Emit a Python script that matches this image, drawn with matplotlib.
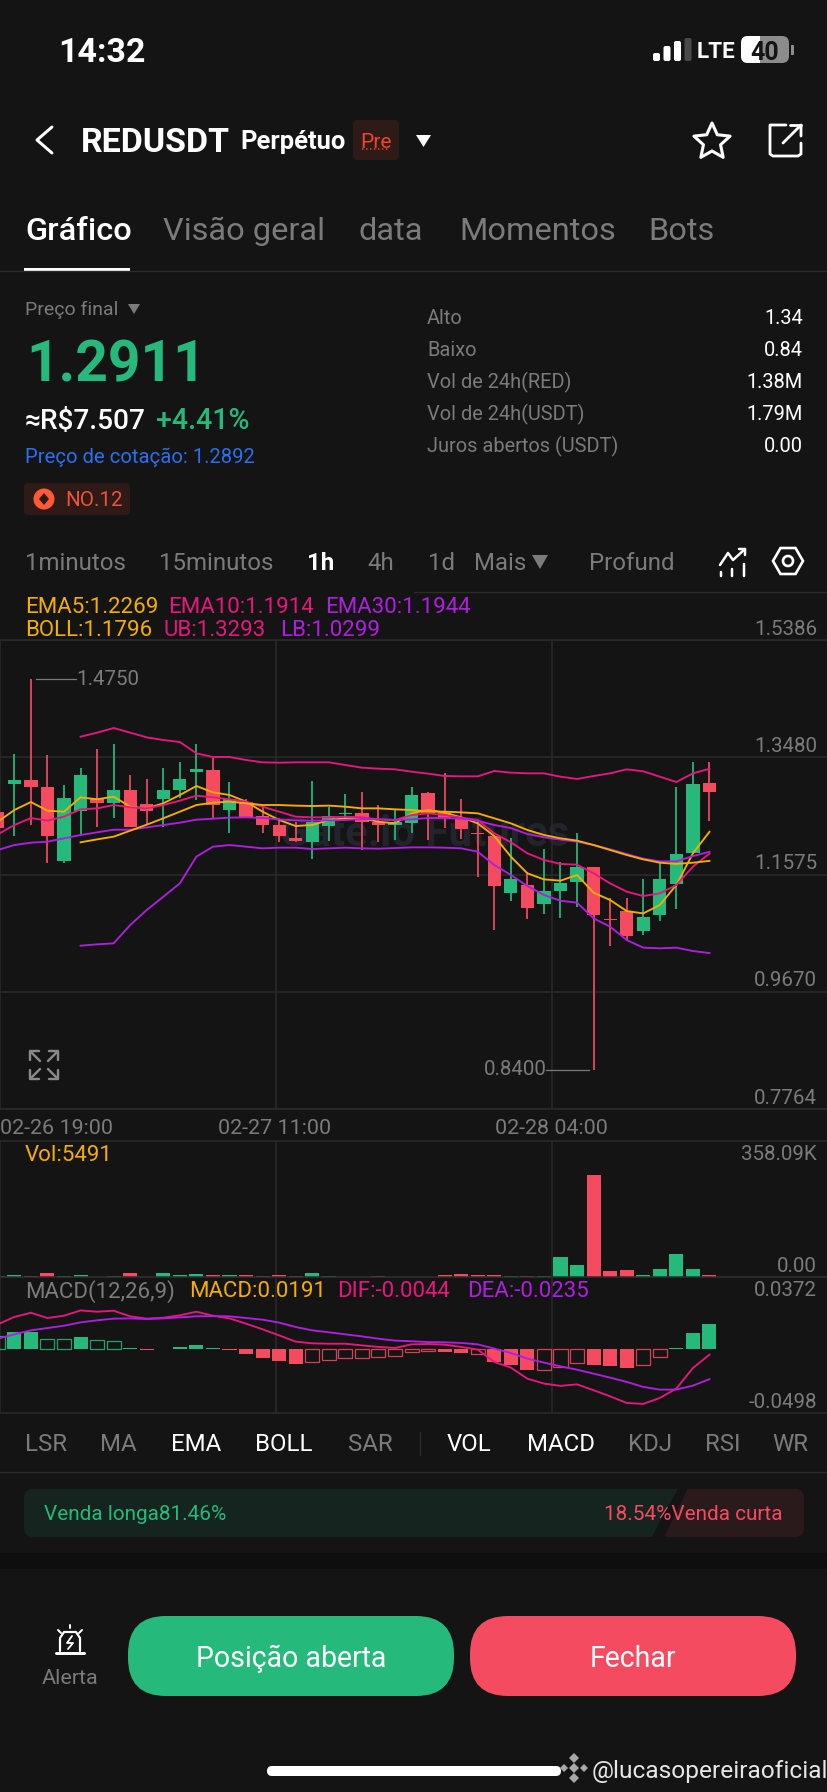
import math
import matplotlib
matplotlib.use('Agg')
import matplotlib.pyplot as plt
import matplotlib.transforms as mtransforms
from matplotlib.patches import FancyBboxPatch, Polygon, Circle, Rectangle, RegularPolygon

plt.rcParams['font.family'] = ['Roboto', 'DejaVu Sans']

W = 828
H = 1792
BG = '#141414'
GRID = '#2b2b2b'
GREY = '#7b7b7b'
GREEN = '#25BA7B'
RED = '#F44B61'
YELLOW = '#F5AE00'
PINK = '#E8177F'
PURPLE = '#B01FDF'
TICK_SIZE = 20.5
LEGEND_SIZE = 22.3

# hourly candles, left to right
opens = [1.2585, 1.3046, 1.3105, 1.2997, 1.1794, 1.2612, 1.2797, 1.2732, 1.2943, 1.2726, 1.2802,
         1.2948, 1.3235, 1.3279, 1.2629, 1.2759, 1.2531, 1.2379, 1.2163, 1.2103, 1.2368, 1.2558,
         1.2569, 1.2433, 1.2374, 1.2417, 1.2905, 1.2580, 1.2471, 1.2244, 1.2206, 1.1279, 1.1404,
         1.1095, 1.1312, 1.1453, 1.1691, 1.0846, 1.0976, 1.0662, 1.0911, 1.1426, 1.1919, 1.3062]
highs = [1.2650, 1.3533, 1.4750, 1.3512, 1.3024, 1.3311, 1.3620, 1.3696, 1.3192, 1.3127, 1.3300,
         1.3398, 1.3696, 1.3463, 1.3078, 1.2797, 1.2677, 1.2488, 1.2433, 1.3094, 1.2667, 1.2883,
         1.2916, 1.2699, 1.2623, 1.2997, 1.2921, 1.3225, 1.2797, 1.2450, 1.2206, 1.2163, 1.1621,
         1.1984, 1.1772, 1.2255, 1.1691, 1.1187, 1.1187, 1.1496, 1.1783, 1.2997, 1.3398, 1.3398]
lows = [1.2217, 1.2200, 1.2385, 1.1767, 1.1767, 1.2200, 1.2347, 1.2499, 1.2347, 1.2390, 1.2341,
        1.2824, 1.2786, 1.2499, 1.2255, 1.2499, 1.2255, 1.2098, 1.2098, 1.1832, 1.2125, 1.2461,
        1.1973, 1.2108, 1.2135, 1.2244, 1.2135, 1.2330, 1.2152, 1.1540, 1.0673, 1.1149, 1.0851,
        1.0933, 1.0873, 1.1052, 0.8400, 1.0418, 1.0499, 1.0597, 1.0824, 1.1008, 1.1919, 1.2444]
closes = [1.2336, 1.3105, 1.2997, 1.2195, 1.2818, 1.3187, 1.2732, 1.2943, 1.2347, 1.2607, 1.2948,
          1.3127, 1.3284, 1.2710, 1.2802, 1.2499, 1.2385, 1.2195, 1.2119, 1.2423, 1.2520, 1.2574,
          1.2428, 1.2385, 1.2423, 1.2872, 1.2574, 1.2482, 1.2320, 1.2228, 1.1393, 1.1496, 1.1025,
          1.1312, 1.1431, 1.1691, 1.0911, 1.0835, 1.0575, 1.0889, 1.1502, 1.1908, 1.3051, 1.2911]

ema5 = [1.2433, 1.2623, 1.2753, 1.2612, 1.2596, 1.2829, 1.2797, 1.2840, 1.2677, 1.2650, 1.2732,
        1.2867, 1.3013, 1.2910, 1.2867, 1.2759, 1.2596, 1.2461, 1.2363, 1.2379, 1.2461, 1.2488,
        1.2488, 1.2433, 1.2406, 1.2569, 1.2623, 1.2580, 1.2504, 1.2406, 1.2200, 1.1865, 1.1594,
        1.1496, 1.1475, 1.1567, 1.1279, 1.1160, 1.0981, 1.0943, 1.1079, 1.1404, 1.1919, 1.2269]
ema10 = [1.2228, 1.2379, 1.2493, 1.2450, 1.2515, 1.2634, 1.2650, 1.2704, 1.2667, 1.2650, 1.2704,
         1.2775, 1.2856, 1.2829, 1.2797, 1.2759, 1.2677, 1.2596, 1.2515, 1.2504, 1.2504, 1.2515,
         1.2504, 1.2471, 1.2461, 1.2542, 1.2569, 1.2542, 1.2499, 1.2461, 1.2244, 1.2098, 1.1919,
         1.1811, 1.1746, 1.1735, 1.1594, 1.1431, 1.1296, 1.1225, 1.1269, 1.1404, 1.1702, 1.1914]
ema30 = [1.1973, 1.2054, 1.2092, 1.2108, 1.2163, 1.2217, 1.2260, 1.2303, 1.2303, 1.2341, 1.2379,
         1.2417, 1.2466, 1.2482, 1.2499, 1.2504, 1.2493, 1.2471, 1.2455, 1.2450, 1.2455, 1.2461,
         1.2477, 1.2471, 1.2461, 1.2471, 1.2493, 1.2493, 1.2482, 1.2450, 1.2379, 1.2330, 1.2233,
         1.2179, 1.2141, 1.2108, 1.2054, 1.1984, 1.1908, 1.1832, 1.1789, 1.1789, 1.1875, 1.1944]

# bollinger bands only start at candle 5
boll_start = 5
boll = [1.2098, 1.2146, 1.2190, 1.2287, 1.2385, 1.2488, 1.2596, 1.2704, 1.2742, 1.2759, 1.2732,
        1.2704, 1.2704, 1.2694, 1.2688, 1.2694, 1.2677, 1.2650, 1.2650, 1.2634, 1.2623, 1.2601,
        1.2596, 1.2585, 1.2569, 1.2488, 1.2406, 1.2298, 1.2217, 1.2163, 1.2125, 1.2054, 1.1973,
        1.1892, 1.1821, 1.1767, 1.1746, 1.1767, 1.1796]
ub = [1.3815, 1.3880, 1.3956, 1.3880, 1.3804, 1.3761, 1.3728, 1.3544, 1.3485, 1.3485, 1.3436,
      1.3398, 1.3392, 1.3398, 1.3398, 1.3398, 1.3355, 1.3311, 1.3295, 1.3284, 1.3246, 1.3214,
      1.3176, 1.3170, 1.3170, 1.3257, 1.3230, 1.3219, 1.3219, 1.3165, 1.3127, 1.3176, 1.3219,
      1.3284, 1.3252, 1.3165, 1.3078, 1.3219, 1.3293]
lb = [1.0418, 1.0440, 1.0456, 1.0754, 1.0998, 1.1214, 1.1431, 1.1865, 1.2027, 1.2054, 1.2027,
      1.2000, 1.2011, 1.2011, 1.1989, 1.2000, 1.2011, 1.2000, 1.1995, 1.2005, 1.2016, 1.2016,
      1.2011, 1.2000, 1.1946, 1.1729, 1.1567, 1.1388, 1.1242, 1.1149, 1.1117, 1.0862, 1.0727,
      1.0510, 1.0386, 1.0375, 1.0386, 1.0331, 1.0299]

# volume in thousands
volumes = [3.5, 8.2, 4.7, 12.9, 2.3, 8.2, 1.2, 4.7, 14.1, 1.2, 14.1, 8.2, 11.7, 8.2, 8.2, 8.2,
           3.5, 8.2, 3.5, 15.3, 4.7, 1.2, 1.2, 3.5, 1.2, 1.2, 1.2, 8.2, 11.7, 8.2, 5.9, 3.5, 3.5,
           4.7, 70.4, 42.3, 358.09, 22.3, 23.5, 8.2, 27.0, 79.8, 27.0, 5.49]

macd_hist = [.0101, .0132, .0135, .0080, .0078, .0091, .0067, .0062, .0010, -.0005, .0003, .0018,
             .0034, .0008, -.0005, -.0041, -.0070, -.0096, -.0114, -.0104, -.0085, -.0070, -.0067,
             -.0062, -.0057, -.0023, -.0018, -.0021, -.0031, -.0041, -.0101, -.0124, -.0163,
             -.0163, -.0142, -.0109, -.0124, -.0132, -.0148, -.0127, -.0062, .0008, .0127, .0191]
macd_hollow = [0, 3, 4, 6, 7, 19, 20, 21, 22, 23, 24, 25, 26, 29, 33, 34, 35, 39, 40]
dif = [.0192, .0249, .0282, .0241, .0259, .0300, .0290, .0298, .0254, .0236, .0243, .0262, .0290,
       .0259, .0238, .0197, .0153, .0106, .0057, .0044, .0041, .0041, .0028, .0016, .0008, .0036,
       .0039, .0034, .0016, -.0005, -.0101, -.0145, -.0231, -.0269, -.0287, -.0275, -.0321,
       -.0368, -.0420, -.0427, -.0381, -.0308, -.0148, -.0044]
dea = [.0080, .0114, .0145, .0163, .0181, .0207, .0223, .0236, .0238, .0233, .0238, .0246, .0254,
       .0256, .0254, .0241, .0228, .0205, .0171, .0145, .0130, .0114, .0098, .0080, .0065, .0060,
       .0054, .0052, .0047, .0036, .0003, -.0031, -.0075, -.0106, -.0135, -.0161, -.0192, -.0223,
       -.0256, -.0295, -.0316, -.0316, -.0285, -.0235]

price_ticks = [1.5386, 1.3480, 1.1575, 0.9670, 0.7764]
time_labels = ['02-26 19:00', '02-27 11:00', '02-28 04:00']

tabs = [('Gráfico', 25, 'white'), ('Visão geral', 163, GREY), ('data', 359, GREY),
        ('Momentos', 459, GREY), ('Bots', 648, GREY)]
stat_names = ['Alto', 'Baixo', 'Vol de 24h(RED)', 'Vol de 24h(USDT)', 'Juros abertos (USDT)']
stat_values = ['1.34', '0.84', '1.38M', '1.79M', '0.00']
stat_rows = [316, 348, 380, 412, 444]
periods = [('1minutos', 25, GREY), ('15minutos', 159, GREY), ('1h', 307, 'white'), ('4h', 367, GREY),
           ('1d', 428, GREY), ('Mais', 474, GREY), ('Profund', 589, GREY)]
indicators = [('LSR', 25, GREY), ('MA', 100, GREY), ('EMA', 171, 'white'), ('BOLL', 255, 'white'),
              ('SAR', 348, GREY), ('VOL', 447, 'white'), ('MACD', 527, 'white'), ('KDJ', 628, GREY),
              ('RSI', 705, GREY), ('WR', 772, GREY)]

fig = plt.figure(figsize=(W / 100, H / 100), dpi=100, facecolor=BG)

# whole phone screen in pixel coordinates, for everything around the chart
ui = fig.add_axes([0, 0, 1, 1])
ui.set_xlim(0, W)
ui.set_ylim(H, 0)
ui.axis('off')


def txt(x, y, s, size, color=GREY, ha='left', weight='normal', **kw):
    return ui.text(x, y, s, fontsize=size * 0.72, color=color, ha=ha, va='center_baseline',
                   fontweight=weight, **kw)


def box(x0, y0, x1, y1, color, r=6, **kw):
    p = FancyBboxPatch((x0 + r, y0 + r), x1 - x0 - 2 * r, y1 - y0 - 2 * r,
                       boxstyle='round,pad=%d,rounding_size=%d' % (r, r), fc=color, ec='none', **kw)
    ui.add_patch(p)
    return p


def line(xs, ys, color='white', lw=2.0, **kw):
    ui.plot(xs, ys, color=color, lw=lw * 0.72, solid_capstyle='round', solid_joinstyle='round', **kw)


def tri(x0, x1, y0, y1, color):
    ui.add_patch(Polygon([(x0, y0), (x1, y0), ((x0 + x1) / 2, y1)], fc=color, ec='none'))


# status bar
txt(58, 49, '14:32', 34, 'white', weight='bold')
for k, top in enumerate([53, 46, 41, 38]):
    box(653 + k * 10.5, top, 660 + k * 10.5, 61, 'white' if k < 3 else '#4a4a4a', r=2)
txt(697, 50, 'LTE', 22.5, 'white', weight='bold')
batt = box(741, 36, 789, 63, '#8c8c8c', r=7)
white_part = Rectangle((741, 36), 19, 27, fc='white', ec='none')
ui.add_patch(white_part)
white_part.set_clip_path(batt)
ui.add_patch(Rectangle((791, 45), 3, 10, fc='#8c8c8c', ec='none'))
txt(765, 50, '40', 25, '#141414', ha='center', weight='bold')

# title row
line([52, 37, 52], [127, 140, 153], lw=3)
txt(81, 140, 'REDUSDT', 34, 'white', weight='bold')
txt(240, 140, 'Perpétuo', 25.5, 'white', weight='bold')
box(353, 120, 399, 160, '#2e1a16', r=4)
txt(376, 140, 'Pre', 21, '#F0452B', ha='center')
line([362, 389], [149, 149], color='#F0452B', lw=1.5, ls=':')
tri(416, 431, 135, 147, 'white')
star = []
for k in range(10):
    r = 19 if k % 2 == 0 else 9
    a = math.radians(-90 + k * 36)
    star.append((712 + r * math.cos(a), 142 + r * math.sin(a)))
ui.add_patch(Polygon(star, fc='none', ec='white', lw=2.2, joinstyle='round'))
line([786, 770, 770, 773, 798, 801, 801], [125, 125, 154, 156, 156, 154, 143], lw=2.8)
line([783, 801, 801], [143, 125, 136], lw=2.8)
line([790, 801], [125, 125], lw=2.8)

# tabs
for name, x, c in tabs:
    txt(x, 228, name, 32.5, c, weight='medium' if c == 'white' else 'normal')
ui.plot([0, W], [271.5, 271.5], color=GRID, lw=1)
ui.add_patch(Rectangle((24, 268), 106, 3, fc='white', ec='none'))

# price block
txt(25, 308, 'Preço final', 19.5, GREY)
tri(128, 140, 304, 314, GREY)
txt(26, 360, '1.2911', 57, GREEN, weight='bold')
txt(25, 418, '≈R$7.507', 28, 'white', weight='medium')
txt(156, 418, '+4.41%', 28.5, GREEN, weight='medium')
txt(25, 455, 'Preço de cotação: 1.2892', 20.3, '#2A70EE')
box(24, 483, 130, 515, '#2e1a16', r=4)
ui.add_patch(Circle((44, 499), 10.5, fc='#FF5A36', ec='none'))
ui.add_patch(Polygon([(44, 493), (49, 499), (44, 505), (39, 499)], fc='#2e1a16', ec='none'))
txt(65, 499, 'NO.12', 20.5, '#F0533A')
for name, val, y in zip(stat_names, stat_values, stat_rows):
    txt(427, y, name, 20, GREY)
    txt(803, y, val, 20, 'white', ha='right')

# period row
for name, x, c in periods:
    txt(x, 561, name, 24, c, weight='bold' if c == 'white' else 'normal')
tri(532, 548, 555, 569, GREY)
line([720, 728, 733, 745], [565, 553, 560, 549], lw=2.5)
line([739, 745, 745], [549, 549, 555], lw=2.5)
for x, top in [(721, 572), (732, 569), (744, 564)]:
    line([x, x], [top, 576], lw=2.5)
ui.add_patch(RegularPolygon((788, 561), 6, radius=15, orientation=math.pi / 6, fc='none', ec='white', lw=1.9))
ui.add_patch(Circle((788, 561), 5, fc='none', ec='white', lw=1.9))

# legends above the panels
ui.plot([414, W], [592, 592], color=GRID, lw=1)
for s, x, c in [('EMA5:1.2269', 25, YELLOW), ('EMA10:1.1914', 168, PINK), ('EMA30:1.1944', 325, PURPLE)]:
    txt(x, 605, s, LEGEND_SIZE, c)
for s, x, c in [('BOLL:1.1796', 25, YELLOW), ('UB:1.3293', 164, PINK), ('LB:1.0299', 280, PURPLE)]:
    txt(x, 628, s, LEGEND_SIZE, c)
txt(25, 1153, 'Vol:5491', LEGEND_SIZE, YELLOW)
for s, x, c in [('MACD(12,26,9)', 25, GREY), ('MACD:0.0191', 189, YELLOW), ('DIF:-0.0044', 337, PINK),
                ('DEA:-0.0235', 467, PURPLE)]:
    txt(x, 1289, s, LEGEND_SIZE, c)

# fake logo behind the candles
txt(280, 830, 'Gate.io Futures', 42, '#23232b', weight='bold')

# indicator row and sentiment bar
for name, x, c in indicators:
    txt(x, 1442, name, 24, c)
ui.plot([420, 420], [1432, 1455], color=GRID, lw=1)
ui.plot([0, W], [1472, 1472], color=GRID, lw=1)
box(24, 1489, 680, 1537, '#16241f', r=9)
ui.add_patch(Polygon([(651, 1538), (680, 1538), (680, 1488), (679, 1488)], fc=BG, ec='none'))
box(660, 1489, 804, 1537, '#2a1a1b', r=9)
ui.add_patch(Polygon([(657, 1538), (664, 1538), (688, 1488), (658, 1488)], fc=BG, ec='none'))
ui.add_patch(Polygon([(640, 1537), (651, 1537), (678, 1489), (640, 1489)], fc='#16241f', ec='none'))
txt(44, 1513, 'Venda longa81.46%', 20.8, GREEN)
txt(783, 1513, '18.54%Venda curta', 20.8, RED, ha='right')
ui.add_patch(Rectangle((0, 1553), W, 16, fc='#0e0e0e', ec='none'))

# bottom buttons
box(128, 1616, 454, 1696, GREEN, r=38)
box(470, 1616, 796, 1696, RED, r=38)
txt(291, 1656, 'Posição aberta', 28.5, 'white', ha='center')
txt(633, 1656, 'Fechar', 28.5, 'white', ha='center')
txt(70, 1676, 'Alerta', 21.5, GREY, ha='center')
line([60, 60, 64, 76, 80, 80], [1651, 1638, 1632, 1632, 1638, 1651], lw=2.2)
line([56, 84], [1653, 1653], lw=3)
line([70, 70], [1625, 1628], lw=2)
line([58, 61], [1630, 1633], lw=2)
line([82, 79], [1630, 1633], lw=2)
line([72, 67, 73, 68], [1636, 1643, 1643, 1649], lw=1.8)

# home bar and the watermark
box(267, 1766, 561, 1776, 'white', r=5)
for cx, cy, r in [(574, 1758, 4), (574, 1778, 4), (564, 1768, 3), (584, 1768, 3)]:
    ui.add_patch(RegularPolygon((cx, cy), 4, radius=r + 1, fc='#a8a8a8', ec='none'))
ui.add_patch(RegularPolygon((574, 1768), 4, radius=5, fc='#a8a8a8', ec='none'))
txt(592, 1769, '@lucasopereiraoficial', 24.5, '#e6e6e6')

# chart panels
PANEL_L = 0
PANEL_R = W
x_left = 2.2 / 16.55
x_right = (W + 2.2) / 16.55
xs = list(range(len(closes)))
boll_xs = xs[boll_start:]
grid_xs = [x_left + (x_right - x_left) * k / 3 for k in range(1, 3)]


def panel(top, bottom):
    ax = fig.add_axes([PANEL_L / W, 1 - bottom / H, (PANEL_R - PANEL_L) / W, (bottom - top) / H])
    ax.set_facecolor('none')
    ax.set_xlim(x_left, x_right)
    for s in ax.spines.values():
        s.set_color(GRID)
        s.set_linewidth(1.1)
    ax.set_xticks(grid_xs)
    ax.set_xticklabels([])
    ax.tick_params(length=0)
    ax.xaxis.grid(True, color=GRID, lw=1.1)
    ax.set_axisbelow(True)
    return ax


def colors_for(up):
    return [GREEN if u else RED for u in up]


main = panel(640, 1109)
main.set_ylim(price_ticks[-1], price_ticks[0])
main.set_yticks(price_ticks)
main.yaxis.grid(True, color=GRID, lw=1.1)
main.yaxis.tick_right()
main.tick_params(axis='y', direction='in', pad=-7.9, labelsize=TICK_SIZE * 0.72, labelcolor=GREY)
lift = mtransforms.ScaledTranslation(0, 1.5 / 100, fig.dpi_scale_trans)
for lab in main.get_yticklabels():
    lab.set_ha('right')
    lab.set_va('bottom')
    lab.set_transform(lab.get_transform() + lift)

up = [c >= o for o, c in zip(opens, closes)]
candle_colors = colors_for(up)
main.vlines(xs, lows, highs, colors=candle_colors, lw=1.25, zorder=3)
main.bar(xs, [max(abs(c - o), 0.0006) for o, c in zip(opens, closes)],
         bottom=[min(o, c) for o, c in zip(opens, closes)], width=0.8, color=candle_colors, zorder=4)

for series, col in [(ema5, YELLOW), (ema10, PINK), (ema30, PURPLE)]:
    main.plot(xs, series, color=col, lw=1.35, zorder=5)
for series, col in [(boll, YELLOW), (ub, PINK), (lb, PURPLE)]:
    main.plot(boll_xs, series, color=col, lw=1.35, zorder=5)

# high and low callouts
hi_i = highs.index(max(highs))
lo_i = lows.index(min(lows))
main.plot([hi_i + 0.3, hi_i + 2.75], [highs[hi_i]] * 2, color=GREY, lw=0.9)
main.text(hi_i + 2.75, highs[hi_i], '%.4f' % highs[hi_i], color=GREY, fontsize=TICK_SIZE * 0.72, va='center')
main.plot([lo_i - 0.3, lo_i - 2.85], [lows[lo_i]] * 2, color=GREY, lw=0.9)
main.text(lo_i - 2.85, lows[lo_i], '%.4f' % lows[lo_i], color=GREY, fontsize=TICK_SIZE * 0.72, va='center', ha='right')

# expand icon
for (cx, cy, dx, dy) in [(30, 1051, 1, 1), (58, 1051, -1, 1), (30, 1079, 1, -1), (58, 1079, -1, -1)]:
    line([cx + dx * 9, cx, cx], [cy, cy, cy + dy * 9], color='#8a8a8a', lw=2.4, zorder=6)
    line([cx + dx * 2, cx + dx * 10], [cy + dy * 2, cy + dy * 10], color='#8a8a8a', lw=2.4, zorder=6)

vol = panel(1141, 1277)
vol.set_ylim(0, 477.9)
vol.set_yticks([])
vol.bar(xs, volumes, width=0.85, color=candle_colors, zorder=3)

macd = panel(1277, 1413)
macd.set_ylim(-0.0498, 0.0560)
macd.set_yticks([])
hist_colors = [GREEN if v >= 0 else RED for v in macd_hist]
for k, (v, c) in enumerate(zip(macd_hist, hist_colors)):
    if k in macd_hollow:
        macd.bar(k, v, width=0.85, facecolor='none', edgecolor=c, lw=0.9, alpha=0.85, zorder=3)
    else:
        macd.bar(k, v, width=0.85, color=c, zorder=3)
macd.plot(xs, dif, color=PINK, lw=1.35, zorder=4)
macd.plot(xs, dea, color=PURPLE, lw=1.35, zorder=5)

# time labels under the price panel, first one pushed inside the screen
for k, s in enumerate(time_labels):
    if k == 0:
        txt(0, 1126, s, 21.5, GREY)
    else:
        txt(W * k / 3 - 1, 1126, s, 21.5, GREY, ha='center')

for s, y in [('358.09K', 1153), ('0.00', 1265), ('0.0372', 1289), ('-0.0498', 1401)]:
    txt(817, y, s, TICK_SIZE, GREY, ha='right')

fig.savefig('out.png', dpi=100, facecolor=BG)
